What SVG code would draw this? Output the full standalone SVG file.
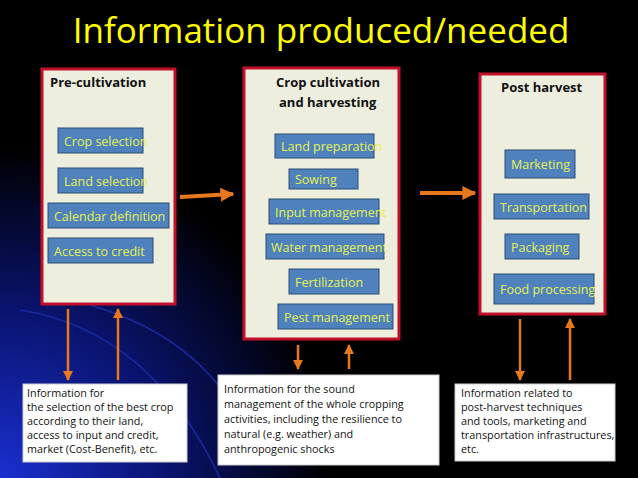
<svg xmlns="http://www.w3.org/2000/svg" width="638" height="478" viewBox="0 0 638 478">
<defs>
<radialGradient id="bg" cx="0" cy="478" r="330" gradientUnits="userSpaceOnUse">
<stop offset="0" stop-color="#1a2fd0"/><stop offset="0.5" stop-color="#0a1470"/><stop offset="1" stop-color="#000000"/>
</radialGradient>
<marker id="ah" viewBox="0 0 10 10" refX="9" refY="5" markerWidth="4" markerHeight="4" orient="auto"><path d="M0,0L10,5L0,10z" fill="#e8781e"/></marker>
<marker id="ahb" viewBox="0 0 10 10" refX="9" refY="5" markerWidth="3.5" markerHeight="3.5" orient="auto"><path d="M0,0L10,5L0,10z" fill="#e8781e"/></marker>
</defs>
<style>
.panel{fill:#eeeedf;stroke:#c0102a;stroke-width:3}
.box{fill:#4f81bd;stroke:#2c4d75;stroke-width:1}
.bl{font-family:"Open Sans","Liberation Sans",sans-serif;font-size:12.5px;fill:#e6f250}
.ph{font-family:"Open Sans","Liberation Sans",sans-serif;font-size:13px;font-weight:bold;fill:#111}
.info{fill:#fff;stroke:#ccc;stroke-width:1}
.it{font-family:"Open Sans","Liberation Sans",sans-serif;font-size:10.8px;fill:#111}
.con{stroke:#e8781e;stroke-width:2.5;fill:none;marker-end:url(#ah)}
.conb{stroke:#e8781e;stroke-width:4;fill:none;marker-end:url(#ahb)}
</style>
<rect width="638" height="478" fill="#000"/>
<rect width="638" height="478" fill="url(#bg)"/>
<path d="M20,310 Q150,330 220,478" stroke="#1a2aa0" stroke-width="1.5" fill="none"/>
<path d="M90,305 Q210,340 250,440" stroke="#1a2aa0" stroke-width="1.5" fill="none"/>
<text x="321" y="43" text-anchor="middle" font-family="'Open Sans','Liberation Sans',sans-serif" font-size="35" fill="#ffff00">Information produced/needed</text>
<g id="pre">
<rect class="panel" x="42" y="69" width="133" height="235"/>
<text class="ph" x="50" y="87">Pre-cultivation</text>
<rect class="box" x="58" y="128" width="85" height="25"/><text class="bl" x="64" y="146">Crop selection</text>
<rect class="box" x="58" y="168" width="85" height="25"/><text class="bl" x="64" y="186">Land selection</text>
<rect class="box" x="48" y="203" width="121" height="25"/><text class="bl" x="54" y="221">Calendar definition</text>
<rect class="box" x="48" y="238" width="105" height="25"/><text class="bl" x="54" y="256">Access to credit</text>
</g>
<g id="crop">
<rect class="panel" x="244" y="68" width="155" height="271"/>
<text class="ph" x="276" y="87">Crop cultivation</text>
<text class="ph" x="279" y="107">and harvesting</text>
<rect class="box" x="275" y="134" width="99" height="24"/><text class="bl" x="281" y="151">Land preparation</text>
<rect class="box" x="289" y="169" width="69" height="20"/><text class="bl" x="295" y="184">Sowing</text>
<rect class="box" x="269" y="199" width="110" height="25"/><text class="bl" x="275" y="217">Input management</text>
<rect class="box" x="266" y="234" width="118" height="25"/><text class="bl" x="271" y="252">Water management</text>
<rect class="box" x="289" y="269" width="90" height="25"/><text class="bl" x="295" y="287">Fertilization</text>
<rect class="box" x="278" y="304" width="115" height="25"/><text class="bl" x="284" y="322">Pest management</text>
</g>
<g id="post">
<rect class="panel" x="480" y="74" width="125" height="240"/>
<text class="ph" x="501" y="92">Post harvest</text>
<rect class="box" x="505" y="150" width="70" height="28"/><text class="bl" x="511" y="169">Marketing</text>
<rect class="box" x="494" y="194" width="95" height="25"/><text class="bl" x="500" y="212">Transportation</text>
<rect class="box" x="505" y="234" width="74" height="25"/><text class="bl" x="511" y="252">Packaging</text>
<rect class="box" x="494" y="274" width="100" height="30"/><text class="bl" x="500" y="294">Food processing</text>
</g>
<g id="info1">
<rect class="info" x="23" y="384" width="164" height="78"/>
<text class="it" x="27" y="397">Information for</text>
<text class="it" x="27" y="411">the selection of the best crop</text>
<text class="it" x="27" y="425">according to their land,</text>
<text class="it" x="27" y="439"> access to input and credit,</text>
<text class="it" x="27" y="453">market (Cost-Benefit), etc.</text>
</g>
<g id="info2">
<rect class="info" x="218" y="375" width="221" height="90"/>
<text class="it" x="224" y="393">Information for the sound</text>
<text class="it" x="224" y="408">management of the whole cropping</text>
<text class="it" x="224" y="423">activities, including the resilience to</text>
<text class="it" x="224" y="438">natural (e.g. weather) and</text>
<text class="it" x="224" y="453">anthropogenic shocks</text>
</g>
<g id="info3">
<rect class="info" x="455" y="384" width="160" height="77"/>
<text class="it" x="461" y="397">Information related to</text>
<text class="it" x="461" y="411">post-harvest techniques</text>
<text class="it" x="461" y="425">and tools, marketing and</text>
<text class="it" x="461" y="439">transportation infrastructures,</text>
<text class="it" x="461" y="453">etc.</text>
</g>
<g id="connectors">
<path class="conb" d="M180,197 L233,194"/>
<path class="conb" d="M420,193 L475,193"/>
<path class="con" d="M68,309 V380"/>
<path class="con" d="M118,380 V309"/>
<path class="con" d="M298,345 V369"/>
<path class="con" d="M349,369 V345"/>
<path class="con" d="M520,319 V380"/>
<path class="con" d="M570,380 V319"/>
</g>
</svg>
